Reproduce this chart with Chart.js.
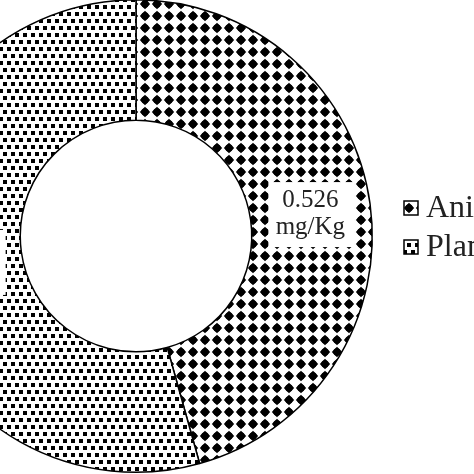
<!DOCTYPE html>
<html>
<head>
<meta charset="utf-8">
<script src="https://cdn.jsdelivr.net/npm/chart.js@4/dist/chart.umd.min.js"></script>
<style>
  html, body { margin: 0; padding: 0; background: #fff; overflow: hidden; }
  #wrap { position: relative; width: 474px; height: 474px; overflow: hidden; }
  #chart { position: absolute; left: -101px; top: -2px; }
</style>
</head>
<body>
<div id="wrap">
  <canvas id="chart" width="575" height="476"></canvas>
</div>
<script>
const labels = ['Animal', 'Plant'];
const values = [0.526, 0.626];
const unit = 'mg/Kg';

// hatch patterns, black on white like the printed figure
function diamondPattern() {
    const c = document.createElement('canvas');
    c.width = 12; c.height = 12;
    const g = c.getContext('2d');
    g.fillStyle = '#fff';
    g.fillRect(0, 0, 12, 12);
    g.fillStyle = '#000';
    g.beginPath();
    g.moveTo(6, 0.8); g.lineTo(11.2, 6); g.lineTo(6, 11.2); g.lineTo(0.8, 6);
    g.closePath();
    g.fill();
    g.beginPath();
    g.arc(6, 6, 3.7, 0, Math.PI * 2);
    g.fill();
    return g.createPattern(c, 'repeat');
}

function squarePattern() {
    const c = document.createElement('canvas');
    c.width = 8; c.height = 14;
    const g = c.getContext('2d');
    g.fillStyle = '#fff';
    g.fillRect(0, 0, 8, 14);
    g.fillStyle = '#000';
    g.fillRect(0, 0, 4, 4);
    g.fillRect(4, 7, 4, 4);
    return g.createPattern(c, 'repeat');
}

const fills = [diamondPattern(), squarePattern()];

const valueBoxes = {
    id: 'valueBoxes',
    afterDatasetsDraw(chart) {
        const ctx = chart.ctx;
        const meta = chart.getDatasetMeta(0);
        ctx.save();
        ctx.font = '25px "Liberation Serif", "Times New Roman", serif';
        ctx.textAlign = 'center';
        ctx.textBaseline = 'middle';
        meta.data.forEach((arc, i) => {
            const p = arc.tooltipPosition();
            ctx.fillStyle = '#fff';
            ctx.fillRect(p.x - 42, p.y - 30, 86, 65);
            ctx.fillStyle = '#222';
            ctx.fillText(values[i].toFixed(3), p.x, p.y - 12);
            ctx.fillText(unit, p.x, p.y + 15);
        });
        ctx.restore();
    }
};

const sideLegend = {
    id: 'sideLegend',
    afterDraw(chart) {
        const ctx = chart.ctx;
        const area = chart.chartArea;
        const cy = (area.top + area.bottom) / 2;
        ctx.save();
        ctx.font = '32px "Liberation Serif", "Times New Roman", serif';
        ctx.textBaseline = 'middle';
        chart.data.labels.forEach((lab, i) => {
            const y = cy - 28 + i * 39;
            const x = area.right + 31;
            ctx.fillStyle = chart.data.datasets[0].backgroundColor[i];
            ctx.fillRect(x, y - 7, 14, 14);
            ctx.strokeStyle = '#000';
            ctx.lineWidth = 1.5;
            ctx.strokeRect(x, y - 7, 14, 14);
            ctx.fillStyle = '#222';
            ctx.fillText(lab, x + 22, y + 1);
        });
        ctx.restore();
    }
};

new Chart(document.getElementById('chart'), {
    type: 'doughnut',
    data: {
        labels,
        datasets: [{
            data: values,
            backgroundColor: fills,
            borderColor: '#000',
            borderWidth: 1.5
        }]
    },
    options: {
        responsive: false,
        animation: false,
        cutout: '49%',
        layout: { padding: { right: 101 } },
        plugins: {
            legend: { display: false },
            tooltip: { enabled: false }
        }
    },
    plugins: [valueBoxes, sideLegend]
});
</script>
</body>
</html>
